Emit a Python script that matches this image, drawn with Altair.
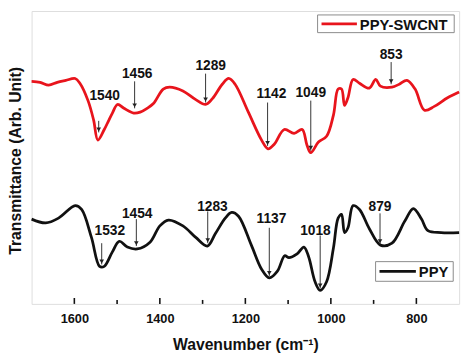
import altair as alt
import pandas as pd

# ---- data (wavenumber, relative transmittance) ----
red_wn = [1700, 1680, 1660, 1640, 1620, 1598, 1587, 1568, 1555, 1545, 1530, 1520, 1511, 1499,
          1484, 1461, 1446, 1430, 1415, 1392, 1377, 1346, 1316, 1293, 1277, 1254, 1239, 1224,
          1193, 1162, 1147, 1132, 1109, 1086, 1067, 1056, 1047, 1029, 1010, 994, 983, 975, 968,
          960, 948, 933, 910, 895, 884, 857, 840, 822, 803, 781, 758, 727, 700]
red_t = [231, 230, 227, 230, 232, 234, 229, 211, 191, 170, 181, 190, 198, 207,
         203, 198, 199, 203, 208, 223, 225, 221, 212, 207, 213, 228, 234, 228,
         199, 170, 161, 166, 181, 177, 181, 165, 157, 168, 174, 196, 223, 223, 206,
         214, 233, 229, 224, 233, 226, 225, 228, 232, 223, 201, 205, 214, 220]

blk_wn = [1700, 1667, 1637, 1598, 1583, 1560, 1541, 1530, 1511, 1495, 1476, 1453, 1423, 1400,
          1380, 1346, 1316, 1289, 1270, 1247, 1232, 1216, 1186, 1162, 1144, 1125, 1108, 1098,
          1079, 1063, 1052, 1037, 1025, 1010, 994, 983, 975, 968, 960, 948, 933, 910, 884,
          857, 827, 807, 788, 773, 742, 700]
blk_t = [88, 84, 89, 102, 98, 69, 39, 39, 54, 65, 59, 57, 64, 81,
         87, 81, 69, 60, 73, 89, 95, 91, 61, 36, 27, 34, 50, 48,
         52, 59, 49, 23, 14, 23, 58, 89, 93, 74, 79, 102, 98, 78, 61,
         63, 86, 99, 88, 76, 74, 74]

# annotations: label, arrow wavenumber, arrow top, arrow tip, label wavenumber, label height
red_labels = ["1540", "1456", "1289", "1142", "1049", "853"]
red_arrow_wn = [1543, 1459, 1293, 1148, 1047, 859]
red_arrow_top = [190, 231, 239, 209, 211, 251]
red_arrow_tip = [178, 203, 209, 164, 159, 228]
red_label_wn = [1529, 1453, 1281, 1139, 1047, 859]
red_label_t = [216, 239, 247, 218, 219, 258]

blk_labels = ["1532", "1454", "1283", "1137", "1018", "879"]
blk_arrow_wn = [1536, 1455, 1288, 1144, 1025, 885]
blk_arrow_top = [63, 88, 96, 79, 71, 94]
blk_arrow_tip = [41, 60, 63, 29, 16, 62]
blk_label_wn = [1517, 1453, 1277, 1139, 1036, 885]
blk_label_t = [76, 93, 101, 88, 76, 101]

major_ticks = [1600, 1400, 1200, 1000, 800]
minor_ticks = [1500, 1300, 1100, 900]

RED = "#e8141c"
BLACK = "#111111"
FONT = "Liberation Sans"
W, H = 435, 298

xs = alt.Scale(domain=[700, 1700], reverse=True, nice=False)
ys = alt.Scale(domain=[0, 304], nice=False)

spec = pd.concat([
    pd.DataFrame({"wn": red_wn, "t": red_t, "s": "PPY-SWCNT"}),
    pd.DataFrame({"wn": blk_wn, "t": blk_t, "s": "PPY"}),
])

x_enc = alt.X("wn:Q", scale=xs,
              axis=alt.Axis(values=major_ticks, format="d", title="Wavenumber (cm⁻¹)",
                            ticks=False, tickSize=0, domain=False, grid=False,
                            labelFont=FONT, labelFontWeight="bold", labelFontSize=13,
                            labelColor="#111", labelPadding=9,
                            titleFont=FONT, titleFontWeight="bold", titleFontSize=16,
                            titleColor="#111", titleBaseline="alphabetic", titleY=46))
y_enc = alt.Y("t:Q", scale=ys,
              axis=alt.Axis(labels=False, ticks=False, domain=False, grid=False,
                            title="Transmittance (Arb. Unit)",
                            titleFont=FONT, titleFontWeight="bold", titleFontSize=16,
                            titleColor="#111", titleAngle=-90, titleBaseline="alphabetic",
                            titleX=-11, titleY=152, titleAlign="center"))

lines = alt.Chart(spec).mark_line(strokeWidth=2.8, interpolate="catmull-rom").encode(
    x=x_enc, y=y_enc,
    color=alt.Color("s:N", scale=alt.Scale(domain=["PPY-SWCNT", "PPY"], range=[RED, BLACK]),
                    legend=None),
    detail="s:N",
)

ann = pd.concat([
    pd.DataFrame({"lab": red_labels, "awn": red_arrow_wn, "top": red_arrow_top,
                  "tip": red_arrow_tip, "lwn": red_label_wn, "lt": red_label_t}),
    pd.DataFrame({"lab": blk_labels, "awn": blk_arrow_wn, "top": blk_arrow_top,
                  "tip": blk_arrow_tip, "lwn": blk_label_wn, "lt": blk_label_t}),
])

arrows = alt.Chart(ann).mark_rule(color="#333", strokeWidth=1).encode(
    x=alt.X("awn:Q", scale=xs), y=alt.Y("top:Q", scale=ys), y2="tip:Q")
heads = alt.Chart(ann).mark_point(shape="triangle-down", filled=True, color="#222",
                                  size=22, opacity=1, yOffset=-3).encode(
    x=alt.X("awn:Q", scale=xs), y=alt.Y("tip:Q", scale=ys))
labels = alt.Chart(ann).mark_text(font=FONT, fontWeight="bold", fontSize=14, color="#111",
                                  baseline="middle").encode(
    x=alt.X("lwn:Q", scale=xs), y=alt.Y("lt:Q", scale=ys), text="lab:N")

tick_df = pd.concat([
    pd.DataFrame({"v": major_ticks, "kind": "major"}),
    pd.DataFrame({"v": minor_ticks, "kind": "minor"}),
])
maj = alt.Chart(tick_df[tick_df.kind == "major"]).mark_rule(color="#111", strokeWidth=1.6).encode(
    x=alt.X("v:Q", scale=xs), y=alt.value(H), y2=alt.value(H - 6))
mino = alt.Chart(tick_df[tick_df.kind == "minor"]).mark_rule(color="#111", strokeWidth=1.6).encode(
    x=alt.X("v:Q", scale=xs), y=alt.value(H), y2=alt.value(H - 4))


def legend_box(name, color, x0, x1, y0, y1, lx0, lx1, tx):
    d = pd.DataFrame({"name": [name]})
    ym = (y0 + y1) / 2
    box = alt.Chart(d).mark_rect(fill="white", stroke="#8a8a8a", strokeWidth=1).encode(
        x=alt.value(x0), x2=alt.value(x1), y=alt.value(y0), y2=alt.value(y1))
    ln = alt.Chart(d).mark_rule(color=color, strokeWidth=2.8).encode(
        x=alt.value(lx0), x2=alt.value(lx1), y=alt.value(ym))
    tx_ = alt.Chart(d).mark_text(font=FONT, fontWeight="bold", fontSize=15, color="#111",
                                 align="left", baseline="middle", dy=1).encode(
        x=alt.value(tx), y=alt.value(ym), text="name:N")
    return box + ln + tx_


leg1 = legend_box("PPY-SWCNT", RED, 291, 430, 4, 22, 295, 331, 334)
leg2 = legend_box("PPY", BLACK, 350, 429, 255, 275, 354, 391, 394)

chart = alt.layer(lines, arrows, heads, labels, maj, mino, leg1, leg2).properties(
    width=W, height=H,
    padding={"left": 24, "top": 0, "right": 7, "bottom": 53},
    autosize=alt.AutoSizeParams(type="none"),
).configure_view(stroke="#111", strokeWidth=3).configure(background="white")

chart.save("out.html", embed_options={"renderer": "svg", "actions": False})
